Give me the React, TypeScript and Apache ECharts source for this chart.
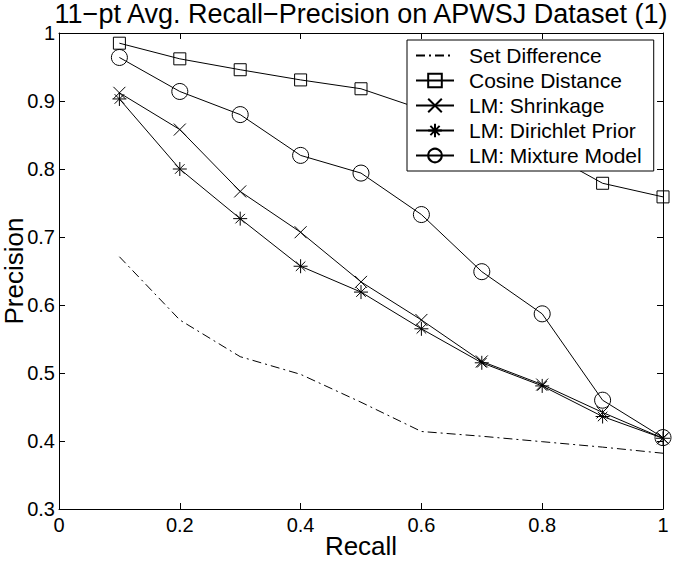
import React, { useEffect, useRef } from "react";
import * as echarts from "echarts";

const FONT = "'Liberation Sans', Arial, Helvetica, sans-serif";

const TITLE = "11\u2212pt Avg. Recall\u2212Precision on APWSJ Dataset (1)";
const X_NAME = "Recall";
const Y_NAME = "Precision";

const recall = [0.1, 0.2, 0.3, 0.4, 0.5, 0.6, 0.7, 0.8, 0.9, 1.0];

const setDifference = [0.671, 0.578, 0.524, 0.498, 0.457, 0.414, 0.407, 0.399, 0.391, 0.382];
const cosineDistance = [0.985, 0.962, 0.946, 0.931, 0.918, 0.888, 0.858, 0.828, 0.779, 0.759];
const lmShrinkage = [0.912, 0.858, 0.767, 0.707, 0.634, 0.578, 0.517, 0.483, 0.442, 0.404];
const lmDirichlet = [0.903, 0.8, 0.727, 0.657, 0.619, 0.565, 0.515, 0.481, 0.436, 0.404];
const lmMixture = [0.964, 0.914, 0.88, 0.82, 0.794, 0.733, 0.649, 0.587, 0.46, 0.405];

const seriesNames = [
  "Set Difference",
  "Cosine Distance",
  "LM: Shrinkage",
  "LM: Dirichlet Prior",
  "LM: Mixture Model",
];

const CROSS = "path://M0,0L10,10M0,10L10,0";
const STAR = "path://M5,0L5,10M0,5L10,5M1.6,1.6L8.4,8.4M1.6,8.4L8.4,1.6";

const pair = (ys: number[]) => recall.map((x, i) => [x, ys[i]]);

const fmt = (v: number) => String(parseFloat(v.toFixed(1)));

export default function App() {
  const ref = useRef<HTMLDivElement>(null);

  useEffect(() => {
    if (!ref.current) return;
    const chart = echarts.init(ref.current, undefined, { renderer: "svg" });

    const axisLine = { show: true, onZero: false, lineStyle: { color: "#000", width: 1 } };
    const axisTick = { show: true, inside: true, length: 6, lineStyle: { color: "#000", width: 1 } };

    const lineBase = {
      type: "line",
      xAxisIndex: 0,
      yAxisIndex: 0,
      lineStyle: { color: "#000", width: 1 },
      itemStyle: { color: "transparent", borderColor: "#000", borderWidth: 1 },
      emphasis: { disabled: true },
      z: 3,
    };

    const option: any = {
      animation: false,
      backgroundColor: "#fff",
      textStyle: { fontFamily: FONT, color: "#000" },
      title: {
        text: TITLE,
        left: 361,
        top: 0,
        textAlign: "center",
        padding: 0,
        textStyle: {
          fontSize: 27,
          lineHeight: 28,
          fontWeight: "normal",
          color: "#000",
          fontFamily: FONT,
        },
      },
      grid: {
        left: 59,
        top: 33,
        right: 10,
        bottom: 52,
        containLabel: false,
        outerBoundsMode: "none",
      },
      legend: {
        orient: "vertical",
        left: 407,
        top: 40,
        padding: [5, 12, 5, 8],
        itemWidth: 38,
        itemHeight: 17,
        itemGap: 4,
        backgroundColor: "#fff",
        borderColor: "#000",
        borderWidth: 1,
        borderRadius: 0,
        selectedMode: false,
        textStyle: { fontSize: 21, color: "#000", fontFamily: FONT, padding: [0, 0, 0, 10] },
        data: [
          { name: seriesNames[0], itemStyle: { color: "transparent", borderColor: "transparent", borderWidth: 0 } },
          { name: seriesNames[1] },
          { name: seriesNames[2] },
          { name: seriesNames[3] },
          { name: seriesNames[4] },
        ],
      },
      xAxis: [
        {
          type: "value",
          min: 0,
          max: 1,
          interval: 0.2,
          position: "bottom",
          name: X_NAME,
          nameLocation: "middle",
          nameGap: 24,
          nameMoveOverlap: false,
          nameTextStyle: { fontSize: 26, lineHeight: 26, color: "#000", fontFamily: FONT },
          axisLine,
          axisTick,
          axisLabel: { fontSize: 20, color: "#000", margin: 6, formatter: fmt, fontFamily: FONT },
          splitLine: { show: false },
        },
        {
          type: "value",
          min: 0,
          max: 1,
          interval: 0.2,
          position: "top",
          axisLine,
          axisTick,
          axisLabel: { show: false },
          splitLine: { show: false },
        },
      ],
      yAxis: [
        {
          type: "value",
          min: 0.3,
          max: 1,
          interval: 0.1,
          position: "left",
          name: Y_NAME,
          nameLocation: "middle",
          nameGap: 32,
          nameMoveOverlap: false,
          nameTextStyle: { fontSize: 26, lineHeight: 26, color: "#000", fontFamily: FONT },
          axisLine,
          axisTick,
          axisLabel: { fontSize: 20, color: "#000", margin: 4, formatter: fmt, fontFamily: FONT },
          splitLine: { show: false },
        },
        {
          type: "value",
          min: 0.3,
          max: 1,
          interval: 0.1,
          position: "right",
          axisLine,
          axisTick,
          axisLabel: { show: false },
          splitLine: { show: false },
        },
      ],
      series: [
        {
          ...lineBase,
          name: seriesNames[0],
          data: pair(setDifference),
          symbol: "none",
          lineStyle: { color: "#000", width: 1, type: [9, 4, 2, 4] },
        },
        { ...lineBase, name: seriesNames[1], data: pair(cosineDistance), symbol: "rect", symbolSize: 12 },
        { ...lineBase, name: seriesNames[2], data: pair(lmShrinkage), symbol: CROSS, symbolSize: 12 },
        { ...lineBase, name: seriesNames[3], data: pair(lmDirichlet), symbol: STAR, symbolSize: 14 },
        { ...lineBase, name: seriesNames[4], data: pair(lmMixture), symbol: "circle", symbolSize: 16 },
      ],
    };

    chart.setOption(option);
    return () => chart.dispose();
  }, []);

  return (
    <div
      ref={ref}
      style={{ position: "absolute", left: 0, top: 0, width: 673, height: 561, background: "#fff" }}
    />
  );
}
